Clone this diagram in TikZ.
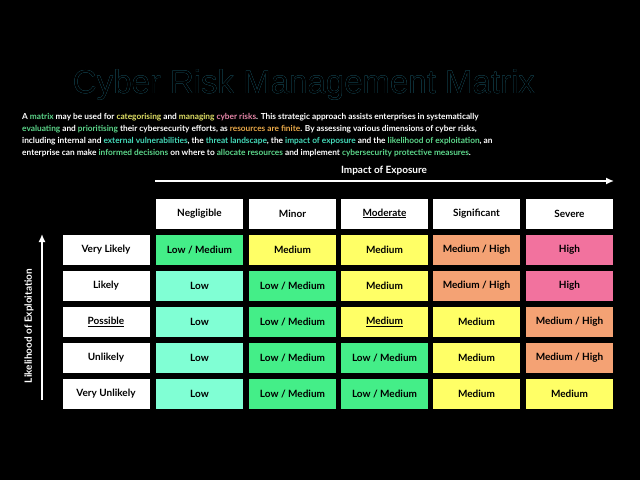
\documentclass[tikz,border=0pt]{standalone}
\usepackage{fontspec}
\usepackage[outline]{contour}
\usetikzlibrary{arrows.meta}
\setmainfont{Lato}
\newfontfamily\titlefont{Liberation Sans}
\definecolor{cLow}{HTML}{80FFD4}
\definecolor{cLM}{HTML}{44EE88}
\definecolor{cMed}{HTML}{FFFF66}
\definecolor{cMH}{HTML}{F4A274}
\definecolor{cHigh}{HTML}{F2729E}
\definecolor{tGreen}{HTML}{5CD68A}
\definecolor{tYel}{HTML}{E2E266}
\definecolor{tPink}{HTML}{E686A8}
\definecolor{tOrange}{HTML}{E8A848}
\definecolor{tTeal}{HTML}{44D8B8}
\definecolor{tCyan}{HTML}{33BBDD}
\contourlength{1.1pt}
\begin{document}
\begin{tikzpicture}[x=1pt,y=-1pt,
  cell/.style={minimum width=87pt,minimum height=30pt,inner sep=0pt,font=\fontsize{10}{12}\selectfont\bfseries,text=black},
  kLow/.style={fill=cLow,node contents={Low}},
  kLM/.style={fill=cLM,node contents={Low / Medium}},
  kMed/.style={fill=cMed,node contents={Medium}},
  kMedU/.style={fill=cMed,node contents={\underline{Medium}}},
  kMH/.style={fill=cMH,node contents={Medium / High}},
  kHigh/.style={fill=cHigh,node contents={High}},
  para/.style={anchor=west,inner sep=0pt,text=white,font=\fontsize{8.3}{10}\selectfont\bfseries},
  arr/.style={white,line width=1.5pt,-{Latex[length=8pt,width=7pt]}}]
\fill[black] (0,0) rectangle (640,480);
\useasboundingbox (0,0) rectangle (640,480);
\node (title) at (304,85) {\titlefont\fontsize{33}{36}\selectfont\contour{tCyan}{\color{black}Cyber Risk Management Matrix}};
\node[para] (p1) at (22,117) {A \textcolor{tGreen}{matrix} may be used for \textcolor{tYel}{categorising} and \textcolor{tYel}{managing} \textcolor{tPink}{cyber risks}. This strategic approach assists enterprises in systematically};
\node[para] (p2) at (22,129) {\textcolor{tGreen}{evaluating} and \textcolor{tGreen}{prioritising} their cybersecurity efforts, as \textcolor{tOrange}{resources are finite}. By assessing various dimensions of cyber risks,};
\node[para] (p3) at (22,141) {including internal and \textcolor{tTeal}{external vulnerabilities}, the \textcolor{tTeal}{threat landscape}, the \textcolor{tTeal}{impact of exposure} and the \textcolor{tGreen}{likelihood of exploitation}, an};
\node[para] (p4) at (22,153) {enterprise can make \textcolor{tGreen}{informed decisions} on where to \textcolor{tGreen}{allocate resources} and implement \textcolor{tGreen}{cybersecurity protective measures}.};
\coordinate (ax1) at (155,181); \coordinate (ax2) at (614,181);
\draw[arr] (ax1) -- (ax2);
\node[text=white,font=\fontsize{10}{12}\selectfont\bfseries] (xl) at (384,171) {Impact of Exposure};
\coordinate (ay1) at (42,400); \coordinate (ay2) at (42,234);
\draw[arr] (ay1) -- (ay2);
\node[text=white,rotate=90,font=\fontsize{10}{12}\selectfont\bfseries] (yl) at (29,326) {Likelihood of Exploitation};
\foreach \x/\t/\n in {199.5/Negligible/h1,292.5/Minor/h2,384.5/\underline{Moderate}/h3,476.5/Significant/h4,569.5/Severe/h5}
  \node[cell,fill=white] (\n) at (\x,213.5) {\t};
\foreach \y/\t/\n in {250/Very Likely/r1,286/Likely/r2,322/\underline{Possible}/r3,358/Unlikely/r4,394/Very Unlikely/r5}
  \node[cell,fill=white] (\n) at (106,\y) {\t};
\foreach \y/\ka/\kb/\kc/\kd/\ke [count=\rr] in {
  250/LM/Med/Med/MH/High,
  286/Low/LM/Med/MH/High,
  322/Low/LM/MedU/Med/MH,
  358/Low/LM/LM/Med/MH,
  394/Low/LM/LM/Med/Med}{
  \foreach \k/\x [count=\cc] in {\ka/199.5,\kb/292.5,\kc/384.5,\kd/476.5,\ke/569.5}{
    \node[cell,k\k,name=c\rr\cc,at={(\x,\y)}];
  }}
\end{tikzpicture}
\end{document}
